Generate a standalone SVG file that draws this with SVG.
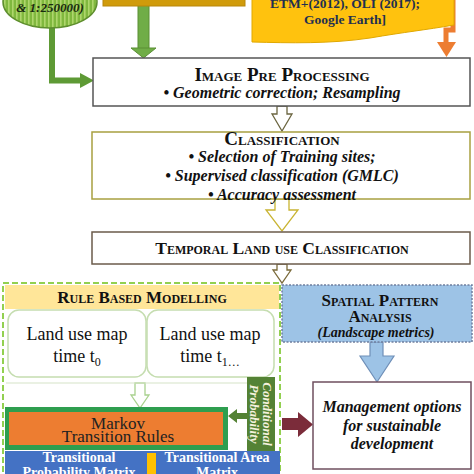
<svg xmlns="http://www.w3.org/2000/svg" width="474" height="474" viewBox="0 0 474 474" font-family="'Liberation Serif', 'Times New Roman', serif">
<defs>
<pattern id="stripes" width="4" height="10" patternUnits="userSpaceOnUse">
<rect width="4" height="10" fill="#80B83E"/>
<rect x="0" width="1.6" height="10" fill="#AED66C"/>
</pattern>
<style>
.t{font-weight:bold;font-variant:small-caps;text-anchor:middle;fill:#111}
.bi{font-weight:bold;font-style:italic;text-anchor:middle;fill:#111}
.r{text-anchor:middle;font-size:18px;fill:#111}
.hollow{fill:#fff;stroke-width:1.3}
.mx{font-size:14px;font-weight:bold;text-anchor:middle;fill:#fff}
</style>
</defs>
<rect width="474" height="474" fill="#fff"/>

<g id="connectors">
<path d="M52,26 V80.5 H81" fill="none" stroke="#5E9A35" stroke-width="6"/>
<polygon points="80,73 94,80.5 80,88" fill="#5E9A35"/>
<rect x="138" y="5" width="11" height="44" fill="#70AD47" stroke="#5B8F34" stroke-width="1"/>
<polygon points="131,48 156,48 143.5,58" fill="#70AD47" stroke="#5B8F34" stroke-width="1"/>
<path d="M453,0 V30 H446 V43" fill="none" stroke="#ED7D31" stroke-width="5"/>
<polygon points="437,42 456,42 446.5,57" fill="#ED7D31"/>
<polygon class="hollow" stroke="#6B6540" points="277,106 287,106 287,114 292,114 282,131 272,114 277,114"/>
<polygon class="hollow" stroke="#C9B432" points="275,199 289,199 289,210 298,210 282,231 266,210 275,210"/>
<polygon class="hollow" stroke="#7A6A3A" points="277,264 287,264 287,270 291,270 282,283 273,270 277,270"/>
<polygon class="hollow" stroke="#A9D18E" points="135,383 145,383 145,395 149,395 140,408 131,395 135,395"/>
<polygon fill="#9DC3E6" stroke="#6F8FB8" stroke-width="1.2" points="370,342 383,342 383,356 394,356 377,382 360,356 370,356"/>
<polygon fill="#548235" points="247,413 237,413 237,409 228,416 237,423 237,419 247,419"/>
<polygon fill="#7B2C3A" points="282,418 298,418 298,412 313,424.5 298,437 298,430 282,430"/>
</g>

<g id="source-ellipse">
<ellipse cx="50" cy="2" rx="47" ry="26" fill="url(#stripes)" stroke="#5E8E2E" stroke-width="1.5"/>
<text class="bi" x="50" y="12" font-size="13" style="fill:#1A2A10">&amp; 1:250000)</text>
</g>

<g id="source-gold">
<rect x="103" y="-3" width="142" height="9" fill="#D09B0B" stroke="#B8860B" stroke-width="1"/>
</g>

<g id="source-document">
<path d="M252,-3 H454 V25 C425,30 405,32 370,38 C330,44 290,43 252,42 Z" fill="#FFC20E" stroke="#E0A800" stroke-width="1"/>
<text x="345" y="8" font-size="13.5" font-weight="bold" text-anchor="middle" fill="#1F3050">ETM+(2012), OLI (2017);</text>
<text x="345" y="24" font-size="13.5" font-weight="bold" text-anchor="middle" fill="#1F3050">Google Earth]</text>
</g>

<g id="image-pre-processing">
<rect x="93" y="58" width="377" height="48" fill="#fff" stroke="#555" stroke-width="1.5"/>
<text class="t" x="282" y="80.5" font-size="19">Image Pre Processing</text>
<text class="bi" x="282" y="98" font-size="16">• Geometric correction; Resampling</text>
</g>

<g id="classification">
<rect x="92" y="132" width="378" height="67" fill="#fff" stroke="#A8A040" stroke-width="1.5"/>
<text class="t" x="282" y="144.5" font-size="19">Classification</text>
<text class="bi" x="282" y="161.5" font-size="16">• Selection of Training sites;</text>
<text class="bi" x="282" y="180.5" font-size="16">• Supervised classification (GMLC)</text>
<text class="bi" x="282" y="199.5" font-size="16">• Accuracy assessment</text>
</g>

<g id="temporal">
<rect x="92" y="232" width="378" height="32" fill="#fff" stroke="#6B5B4B" stroke-width="1.5"/>
<text class="t" x="282" y="253.5" font-size="17.5">Temporal Land use Classification</text>
</g>

<g id="rule-based-modelling">
<rect x="3" y="283" width="277" height="200" fill="none" stroke="#92D050" stroke-width="2" stroke-dasharray="6,3"/>
<rect x="5" y="285" width="274" height="24" fill="#FFE699"/>
<text class="t" x="142" y="303" font-size="17">Rule Based Modelling</text>
<line x1="6" y1="383" x2="247" y2="383" stroke="#D5E3C8" stroke-width="1.2"/>
</g>

<g id="land-use-t0">
<rect x="8" y="310" width="138" height="67" rx="11" fill="#fff" stroke="#C5DDB0" stroke-width="1.5"/>
<text class="r" x="77" y="340">Land use map</text>
<text class="r" x="77" y="362">time t<tspan font-size="12" dy="4">0</tspan></text>
</g>

<g id="land-use-t1">
<rect x="147" y="310" width="127" height="67" rx="11" fill="#fff" stroke="#C5DDB0" stroke-width="1.5"/>
<text class="r" x="210" y="340">Land use map</text>
<text class="r" x="210" y="362">time t<tspan font-size="12" dy="4">1…</tspan></text>
</g>

<g id="markov">
<rect x="5" y="407" width="223" height="43" fill="#2E9E4F"/>
<rect x="9" y="412" width="214" height="33" fill="#ED7D31"/>
<text x="118" y="429" font-size="17" text-anchor="middle" fill="#222">Markov</text>
<text x="118" y="442" font-size="17" text-anchor="middle" fill="#222">Transition Rules</text>
</g>

<g id="conditional-probability">
<rect x="247" y="377" width="28" height="75" fill="#548235"/>
<text class="bi" font-size="13" style="fill:#F4F1DC" transform="translate(263,414) rotate(90)">Conditional</text>
<text class="bi" font-size="13" style="fill:#F4F1DC" transform="translate(250,414) rotate(90)">Probability</text>
</g>

<g id="matrices">
<rect x="5" y="451" width="275" height="25" fill="#4472C4"/>
<rect x="147" y="453" width="9" height="23" fill="#FFC000"/>
<text class="mx" x="79" y="462">Transitional</text>
<text class="mx" x="79" y="477">Probability Matrix</text>
<text class="mx" x="217" y="462">Transitional Area</text>
<text class="mx" x="217" y="477">Matrix</text>
</g>

<g id="spatial-pattern">
<rect x="282" y="285" width="190" height="57" fill="#9DC3E6" stroke="#6F7F9F" stroke-width="1.5" stroke-dasharray="2,1.5"/>
<text class="t" x="380" y="305.5" font-size="17">Spatial Pattern</text>
<text class="t" x="380" y="322" font-size="17">Analysis</text>
<text class="bi" x="376" y="337" font-size="14">(Landscape metrics)</text>
</g>

<g id="management">
<rect x="313" y="382" width="158" height="87" fill="#fff" stroke="#6F4F5F" stroke-width="1.5"/>
<text class="bi" x="392" y="412" font-size="16">Management options</text>
<text class="bi" x="392" y="431" font-size="16">for sustainable</text>
<text class="bi" x="392" y="449" font-size="16">development</text>
</g>
</svg>
